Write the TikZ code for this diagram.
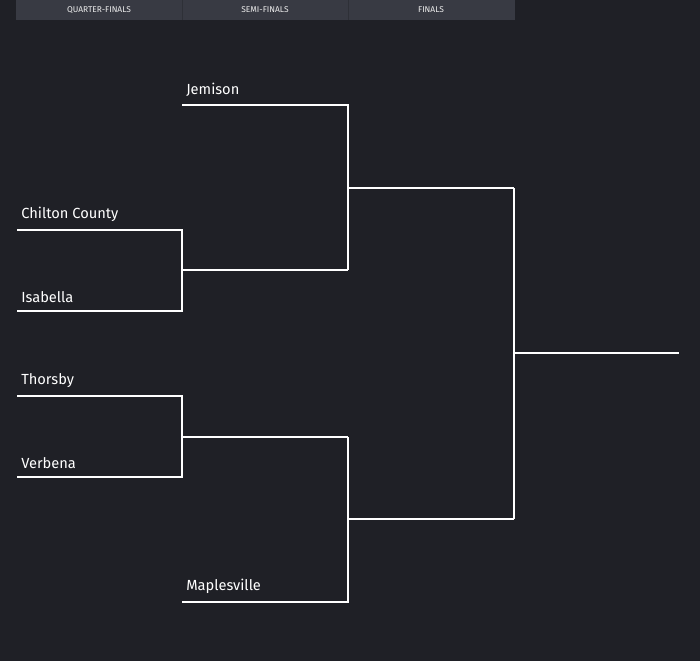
\documentclass[tikz,border=0pt]{standalone}
\usepackage{fontspec}
\setmainfont{Fira Sans}
\definecolor{bgdark}{HTML}{1F2026}
\definecolor{headbg}{HTML}{383A43}
\definecolor{headsep}{HTML}{2E3037}
\tikzset{
  team/.style={anchor=south west, inner sep=0pt, text=white, font=\fontsize{11}{12}\selectfont, xshift=3pt, yshift=6pt},
  head/.style={text=white!85!gray, font=\fontsize{6.3}{7}\selectfont},
  wire/.style={draw=white, line width=1.1pt}
}
\begin{document}
\begin{tikzpicture}[x=0.0264cm, y=-0.0264cm]
\useasboundingbox[fill=bgdark] (0,0) rectangle (700,661);

% Header
\fill[headbg] (16,0) rectangle (515,20);
\draw[headsep, line width=0.6pt] (182,0) -- (182,20) (348,0) -- (348,20);
\node[head] (hq) at (99,10)  {QUARTER-FINALS};
\node[head] (hs) at (265,10) {SEMI-FINALS};
\node[head] (hf) at (431,10) {FINALS};

% Coordinates
\coordinate (jemA) at (182,105);  \coordinate (jemB) at (348,105);
\coordinate (chiA) at (17,230);   \coordinate (chiB) at (182,230);
\coordinate (isaA) at (17,311);   \coordinate (isaB) at (182,311);
\coordinate (thoA) at (17,396);   \coordinate (thoB) at (182,396);
\coordinate (verA) at (17,477);   \coordinate (verB) at (182,477);
\coordinate (mapA) at (182,602);  \coordinate (mapB) at (348,602);
\coordinate (q1) at (182,270);    \coordinate (q1B) at (348,270);
\coordinate (q2) at (182,437);    \coordinate (q2B) at (348,437);
\coordinate (s1) at (348,188);    \coordinate (s1B) at (514,188);
\coordinate (s2) at (348,519);    \coordinate (s2B) at (514,519);
\coordinate (f)  at (514,353);    \coordinate (fB) at (679,353);

% Labels
\node[team] (jem) at (jemA) {Jemison};
\node[team] (chi) at (chiA) {Chilton County};
\node[team] (isa) at (isaA) {Isabella};
\node[team] (tho) at (thoA) {Thorsby};
\node[team] (ver) at (verA) {Verbena};
\node[team] (map) at (mapA) {Maplesville};

% Bracket
\draw[wire] (chiA) -- (chiB) -- (isaB) -- (isaA);
\draw[wire] (q1) -- (q1B);
\draw[wire] (thoA) -- (thoB) -- (verB) -- (verA);
\draw[wire] (q2) -- (q2B);
\draw[wire] (jemA) -- (jemB) -- (q1B);
\draw[wire] (s1) -- (s1B);
\draw[wire] (q2B) -- (mapB) -- (mapA);
\draw[wire] (s2) -- (s2B);
\draw[wire] (s1B) -- (s2B);
\draw[wire] (f) -- (fB);
\end{tikzpicture}
\end{document}
